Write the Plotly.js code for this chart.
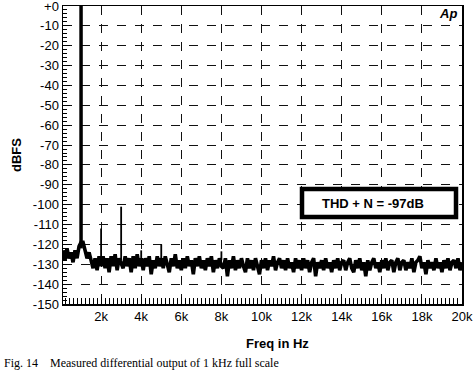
<!DOCTYPE html>
<html>
<head>
<meta charset="utf-8">
<script src="https://cdn.plot.ly/plotly-3.0.1.min.js"></script>
<style>html,body{margin:0;padding:0;background:#fff;}#chart{width:474px;height:370px;}</style>
</head>
<body>
<div id="chart"></div>
<script>
// Noise floor, 100 Hz steps from 100 Hz to 20 kHz (dBFS)
var noiseStartHz = 100;
var noiseStepHz = 100;
var noiseLevels = [
  -123,-128,-122,-127,-124,-129,-123,-127,-121,-119,
  -119,-124,-127,-124,-128,-132,-127,-133,-126,-131,
  -126,-132,-127,-134,-126,-131,-125,-133,-127,-130,
  -132,-126,-131,-127,-134,-126,-132,-125,-131,-127,
  -133,-127,-131,-126,-135,-128,-132,-126,-131,-127,
  -132,-126,-131,-134,-127,-131,-125,-132,-128,-133,
  -127,-132,-126,-131,-128,-135,-127,-131,-126,-132,
  -128,-133,-127,-131,-126,-134,-128,-132,-127,-131,
  -132,-127,-136,-128,-132,-126,-133,-128,-132,-127,
  -131,-134,-127,-132,-128,-133,-127,-131,-135,-128,
  -132,-127,-133,-128,-131,-126,-133,-129,-127,-132,
  -128,-133,-127,-132,-129,-134,-127,-132,-128,-133,
  -127,-132,-128,-134,-129,-127,-136,-129,-132,-128,
  -133,-127,-132,-129,-134,-128,-132,-127,-133,-129,
  -128,-133,-129,-127,-132,-134,-128,-132,-127,-133,
  -129,-136,-128,-133,-129,-127,-132,-129,-134,-128,
  -132,-127,-133,-129,-128,-134,-129,-127,-133,-129,
  -128,-133,-129,-132,-127,-134,-129,-128,-126,-132,
  -129,-135,-128,-132,-129,-133,-127,-132,-129,-134,
  -128,-132,-127,-133,-129,-128,-132,-127,-133,-129
];
// Fundamental and harmonic spurs
var spurFreqs = [2000, 3000, 4000, 5000, 8000];
var spurLevels = [-112, -101, -123, -120, -123.5];
var spurBase = -128;
var fundFreq = 1000;
var fundLevel = 0;
var fundBase = -122;

var yTickVals = [0,-10,-20,-30,-40,-50,-60,-70,-80,-90,-100,-110,-120,-130,-140,-150];
var yTickText = ['+0','-10','-20','-30','-40','-50','-60','-70','-80','-90','-100','-110','-120','-130','-140','-150'];
var xTickVals = [2000,4000,6000,8000,10000,12000,14000,16000,18000,20000];
var xTickText = ['2k','4k','6k','8k','10k','12k','14k','16k','18k','20k'];

var noiseFreqs = noiseLevels.map(function(_, i){ return noiseStartHz + i*noiseStepHz; });
var sx = [], sy = [];
spurFreqs.forEach(function(f, i){ sx.push(f, f, null); sy.push(spurBase, spurLevels[i], null); });

var data = [
  {x: noiseFreqs, y: noiseLevels, mode:'lines', line:{color:'#000', width:3.6}, hoverinfo:'skip'},
  {x: sx, y: sy, mode:'lines', line:{color:'#000', width:1.8}, hoverinfo:'skip'},
  {x: [fundFreq, fundFreq], y: [fundBase, fundLevel], mode:'lines', line:{color:'#000', width:3.5}, hoverinfo:'skip'}
];

var L = 63, R = 462, T = 6, B = 304;
function px(x){ return (x - L)/(R - L); }
function py(y){ return (B - y)/(B - T); }

var layout = {
  width: 474, height: 370,
  margin: {l: L, r: 474 - R, t: T, b: 370 - B},
  paper_bgcolor: '#fff', plot_bgcolor: '#fff',
  showlegend: false,
  font: {family: 'Liberation Sans, Arial, sans-serif', size: 13, color: '#000'},
  xaxis: {
    range: [100, 20000], tickvals: xTickVals, ticktext: xTickText,
    showline: true, mirror: true, linecolor: '#000', linewidth: 1.5,
    ticks: 'inside', ticklen: 7, tickcolor: '#000',
    showgrid: true, gridcolor: '#111', griddash: 'dash', gridwidth: 1,
    zeroline: false,
    minor: {dtick: 200, tick0: 0, ticks: 'inside', ticklen: 6, tickcolor: '#000', showgrid: false},
    tickfont: {size: 13}, ticklabeloverflow: 'allow'
  },
  yaxis: {
    range: [-150, 0], tickvals: yTickVals, ticktext: yTickText,
    showline: true, mirror: true, linecolor: '#000', linewidth: 1.5,
    ticks: 'inside', ticklen: 7, tickcolor: '#000',
    showgrid: true, gridcolor: '#111', griddash: 'dash', gridwidth: 1,
    zeroline: false,
    minor: {dtick: 2, tick0: 0, ticks: 'inside', ticklen: 4, tickcolor: '#000', showgrid: false},
    tickfont: {size: 13}, ticklabeloverflow: 'allow',
    title: {text: '<b>dBFS</b>', font: {size: 13}, standoff: 8}
  },
  shapes: [
    {type: 'rect', xref: 'paper', yref: 'paper', x0: px(302), x1: px(456), y0: py(217), y1: py(189),
     line: {color: '#000', width: 4.5}, fillcolor: '#fff', layer: 'above'}
  ],
  annotations: [
    {xref: 'paper', yref: 'paper', x: px(373), y: py(203), text: '<b>THD + N = -97dB</b>', showarrow: false,
     font: {size: 13}, xanchor: 'center', yanchor: 'middle'},
    {xref: 'paper', yref: 'paper', x: px(459), y: py(14), text: '<b><i>Ap</i></b>', showarrow: false,
     font: {size: 13}, xanchor: 'right', yanchor: 'middle'},
    {xref: 'paper', yref: 'paper', x: px(277), y: py(343), text: '<b>Freq in Hz</b>', showarrow: false,
     font: {size: 13}, xanchor: 'center', yanchor: 'middle'},
    {xref: 'paper', yref: 'paper', x: px(2), y: py(354), text: 'Fig. 14    Measured differential output of 1 kHz full scale', showarrow: false,
     font: {family: 'Liberation Serif, Times New Roman, serif', size: 12}, xanchor: 'left', yanchor: 'top'}
  ]
};
Plotly.newPlot('chart', data, layout, {displayModeBar: false, staticPlot: true});
</script>
</body>
</html>
